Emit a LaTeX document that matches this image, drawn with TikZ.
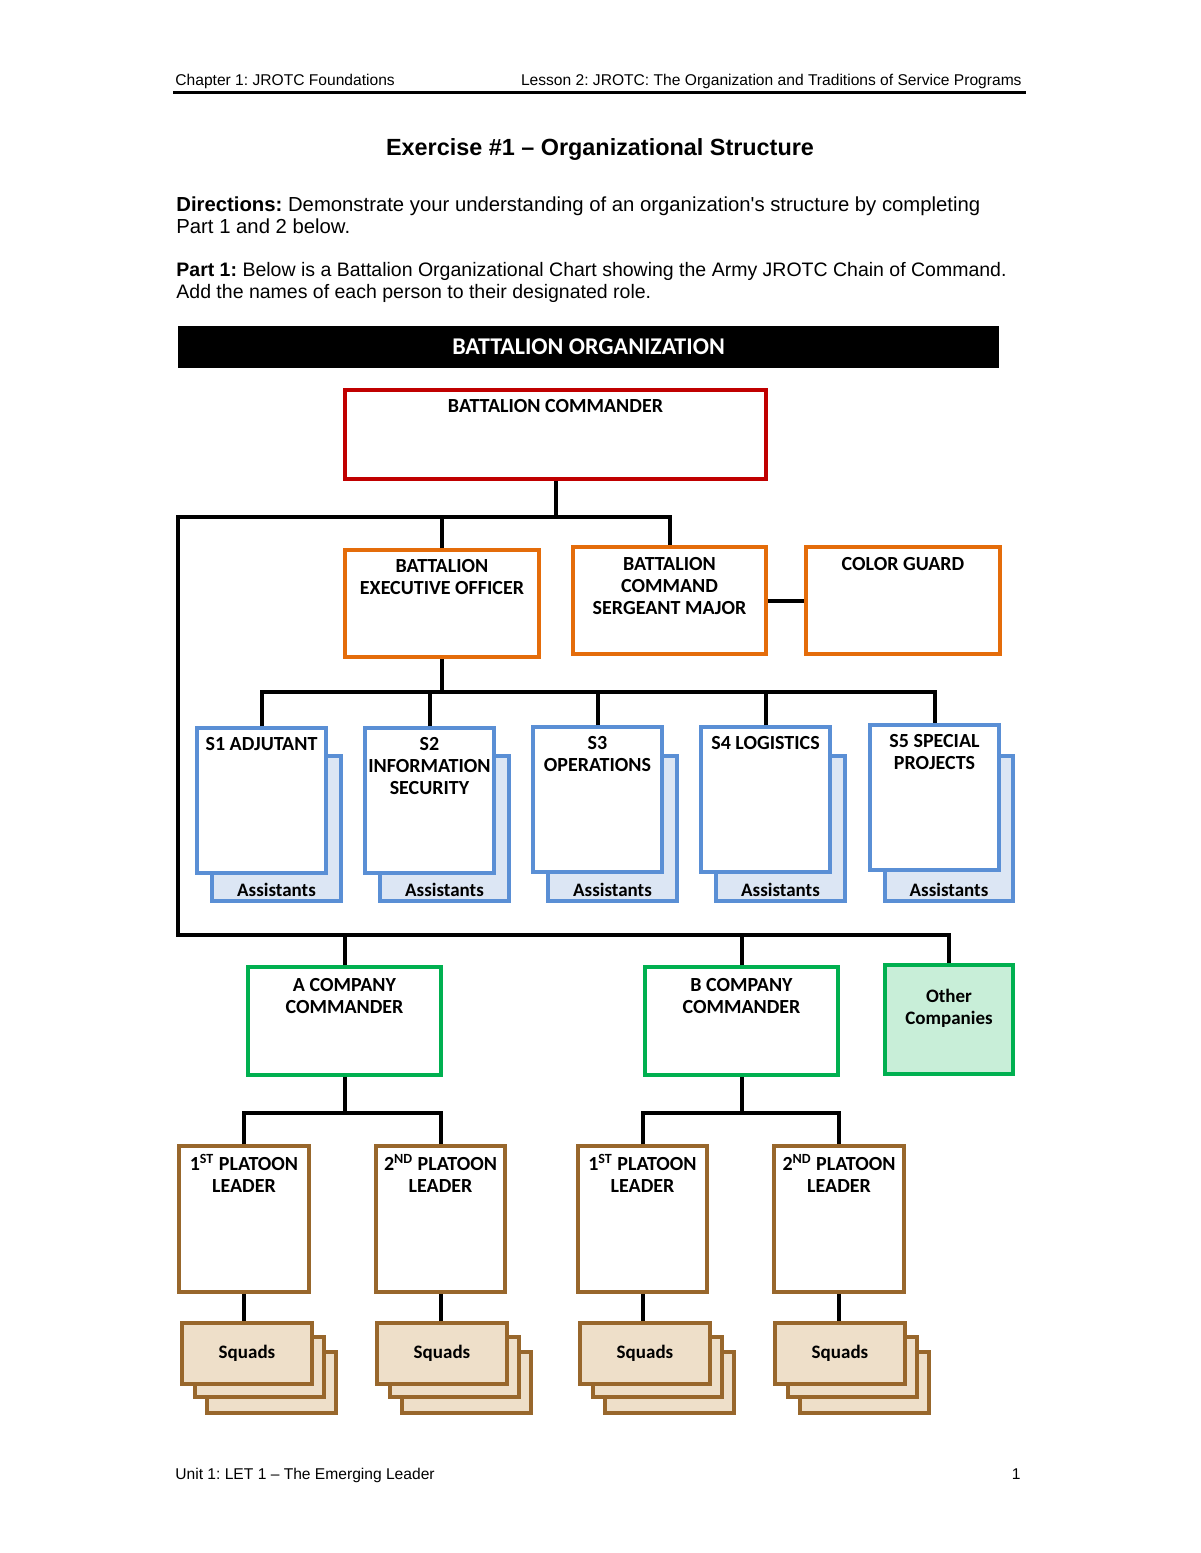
\documentclass[tikz,border=0pt]{standalone}
\usepackage{fontspec}
\setmainfont{Liberation Sans}
\newfontfamily\calfont{Carlito}
\frenchspacing
\usetikzlibrary{fit}
\definecolor{cred}{HTML}{C00000}
\definecolor{corange}{HTML}{E46C0A}
\definecolor{cblue}{HTML}{5A8FD5}
\definecolor{cbluefill}{HTML}{DCE6F4}
\definecolor{cgreen}{HTML}{00B050}
\definecolor{cgreenfill}{HTML}{C8EED8}
\definecolor{cbrown}{HTML}{98672C}
\definecolor{ctan}{HTML}{EEDFC9}
\newcommand{\ml}[1]{\begin{tabular}[t]{@{}c@{}}#1\end{tabular}}
\newcommand{\mll}[1]{\begin{tabular}[t]{@{}l@{}}#1\end{tabular}}
\tikzset{
  box/.style={draw, line width=1.75pt, inner sep=0pt, fill=white},
  redbox/.style={box, draw=cred},
  orbox/.style={box, draw=corange},
  bluebox/.style={box, draw=cblue, line width=1.6pt},
  blueback/.style={box, draw=cblue, fill=cbluefill, line width=1.6pt},
  grbox/.style={box, draw=cgreen},
  grfill/.style={box, draw=cgreen, fill=cgreenfill},
  brbox/.style={box, draw=cbrown},
  sqbox/.style={box, draw=cbrown, fill=ctan},
  conn/.style={draw=black, line width=2pt},
  lbl/.style={font=\calfont\bfseries\fontsize{10}{11}\selectfont, inner sep=0pt, anchor=base},
  lbls/.style={font=\calfont\bfseries\fontsize{9.5}{11}\selectfont, inner sep=0pt, anchor=base},
  hdr/.style={font=\fontsize{7.8}{9}\selectfont, inner sep=0pt},
  body/.style={inner sep=0pt, anchor=base west},
}
\begin{document}
\begin{tikzpicture}[x=0.5pt,y=-0.5pt]
\useasboundingbox[fill=white] (0,0) rectangle (1200,1553);

% header
\node[hdr, anchor=base west] (h1) at (175,85) {Chapter 1: JROTC Foundations};
\node[hdr, anchor=base east] (h2) at (1022,85) {Lesson 2: JROTC: The Organization and Traditions of Service Programs};
\coordinate (r1) at (173,92);
\coordinate (r2) at (1026,92);
\draw[line width=1.5pt] (r1) -- (r2);

% title and text
\node[font=\bfseries\fontsize{11.7}{14}\selectfont, inner sep=0pt, anchor=base] (title) at (600,155) {Exercise \#1 – Organizational Structure};
\node[body, font=\fontsize{10.15}{11}\selectfont] (dir) at (176,211) {\mll{\textbf{Directions:} Demonstrate your understanding of an organization\textquotesingle s structure by completing\\Part 1 and 2 below.}};
\node[body, font=\fontsize{9.75}{11}\selectfont] (part) at (176,276) {\mll{\textbf{Part 1:} Below is a Battalion Organizational Chart showing the Army JROTC Chain of Command.\\Add the names of each person to their designated role.}};

% bar
\node[fit={(178,326)(999,368)}, inner sep=0pt, fill=black] (bar) {};
\node[font=\calfont\bfseries\fontsize{12}{14}\selectfont, text=white, inner sep=0pt] (bartxt) at (bar.center) {BATTALION ORGANIZATION};

% top level
\node[redbox, fit={(345,390)(766,479)}] (cmd) {};
\node[orbox, fit={(345,550)(539,657)}] (xo) {};
\node[orbox, fit={(573,547)(766,654)}] (csm) {};
\node[orbox, fit={(806,547)(1000,654)}] (cg) {};

% staff back boxes
\node[blueback, fit={(212,756)(341,901)}] (s1b) {};
\node[blueback, fit={(380,756)(509,901)}] (s2b) {};
\node[blueback, fit={(548,756)(677,901)}] (s3b) {};
\node[blueback, fit={(716,756)(845,901)}] (s4b) {};
\node[blueback, fit={(885,756)(1013,901)}] (s5b) {};
% staff front boxes
\node[bluebox, fit={(197,728)(326,873)}] (s1) {};
\node[bluebox, fit={(365,728)(494,873)}] (s2) {};
\node[bluebox, fit={(533,727)(662,872)}] (s3) {};
\node[bluebox, fit={(701,727)(830,872)}] (s4) {};
\node[bluebox, fit={(870,725)(999,870)}] (s5) {};

% companies
\node[grbox, fit={(248,967)(441,1075)}] (ca) {};
\node[grbox, fit={(645,967)(838,1075)}] (cb) {};
\node[grfill, fit={(885,965)(1013,1074)}] (oc) {};

% platoons
\node[brbox, fit={(179,1146)(309,1292)}] (p1) {};
\node[brbox, fit={(376,1146)(505,1292)}] (p2) {};
\node[brbox, fit={(578,1146)(707,1292)}] (p3) {};
\node[brbox, fit={(774,1146)(904,1292)}] (p4) {};

% squads (back, middle, front)
\node[sqbox, fit={(207,1352)(336,1413)}] (q1c) {};
\node[sqbox, fit={(195,1337)(324,1397)}] (q1b) {};
\node[sqbox, fit={(182,1323)(312,1384)}] (q1) {};
\node[sqbox, fit={(402,1352)(531,1413)}] (q2c) {};
\node[sqbox, fit={(390,1337)(519,1397)}] (q2b) {};
\node[sqbox, fit={(377,1323)(507,1384)}] (q2) {};
\node[sqbox, fit={(605,1352)(734,1413)}] (q3c) {};
\node[sqbox, fit={(593,1337)(722,1397)}] (q3b) {};
\node[sqbox, fit={(580,1323)(710,1384)}] (q3) {};
\node[sqbox, fit={(800,1352)(929,1413)}] (q4c) {};
\node[sqbox, fit={(788,1337)(917,1397)}] (q4b) {};
\node[sqbox, fit={(775,1323)(905,1384)}] (q4) {};

% connectors
\draw[conn] (cmd.south) -- ++(0,36) coordinate (j1);
\coordinate (bl) at (178,935);
\coordinate (tl) at (j1 -| bl);
\draw[conn] (xo.north) |- (j1) -| (csm.north);
\draw[conn] (xo.north |- j1) -- (tl) -- (bl) -| (oc.north);
\draw[conn] (ca.north) -- (ca.north |- bl);
\draw[conn] (cb.north) -- (cb.north |- bl);
\draw[conn] (csm.east) -- (cg.west);
\draw[conn] (xo.south) -- ++(0,33) coordinate (j2);
\draw[conn] (s1.north) |- (j2) -| (s5.north);
\draw[conn] (s2.north) -- (s2.north |- j2);
\draw[conn] (s3.north) -- (s3.north |- j2);
\draw[conn] (s4.north) -- (s4.north |- j2);
\draw[conn] (ca.south) -- ++(0,36) coordinate (j3);
\draw[conn] (p1.north) |- (j3) -| (p2.north);
\draw[conn] (cb.south) -- ++(0,36) coordinate (j4);
\draw[conn] (p3.north) |- (j4) -| (p4.north);
\draw[conn] (p1.south) -- (p1.south |- q1.north);
\draw[conn] (p2.south) -- (p2.south |- q2.north);
\draw[conn] (p3.south) -- (p3.south |- q3.north);
\draw[conn] (p4.south) -- (p4.south |- q4.north);

% labels
\node[lbl] (tcmd) at ([yshift=-12pt]cmd.north) {BATTALION COMMANDER};
\node[lbl] (txo) at ([yshift=-12pt]xo.north) {\ml{BATTALION\\EXECUTIVE OFFICER}};
\node[lbl] (tcsm) at ([yshift=-12.5pt]csm.north) {\ml{BATTALION\\COMMAND\\SERGEANT MAJOR}};
\node[lbl] (tcg) at ([yshift=-12.5pt]cg.north) {COLOR GUARD};
\node[lbl] (ts1) at ([yshift=-12pt]s1.north) {S1 ADJUTANT};
\node[lbl] (ts2) at ([yshift=-12pt]s2.north) {\ml{S2\\INFORMATION\\SECURITY}};
\node[lbl] (ts3) at ([yshift=-12pt]s3.north) {\ml{S3\\OPERATIONS}};
\node[lbl] (ts4) at ([yshift=-12pt]s4.north) {S4 LOGISTICS};
\node[lbl] (ts5) at ([yshift=-12pt]s5.north) {\ml{S5 SPECIAL\\PROJECTS}};
\foreach \s in {s1b,s2b,s3b,s4b,s5b}{
  \node[lbls] at ([yshift=3pt]\s.south) {Assistants};
}
\node[lbl] (tca) at ([yshift=-13pt]ca.north) {\ml{A COMPANY\\COMMANDER}};
\node[lbl] (tcb) at ([yshift=-13pt]cb.north) {\ml{B COMPANY\\COMMANDER}};
\node[lbls] (toc) at ([yshift=-19.5pt]oc.north) {\ml{Other\\Companies}};
\node[lbl] (tp1) at ([yshift=-13pt]p1.north) {\ml{1\textsuperscript{ST} PLATOON\\LEADER}};
\node[lbl] (tp2) at ([yshift=-13pt]p2.north) {\ml{2\textsuperscript{ND} PLATOON\\LEADER}};
\node[lbl] (tp3) at ([yshift=-13pt]p3.north) {\ml{1\textsuperscript{ST} PLATOON\\LEADER}};
\node[lbl] (tp4) at ([yshift=-13pt]p4.north) {\ml{2\textsuperscript{ND} PLATOON\\LEADER}};
\foreach \q in {q1,q2,q3,q4}{
  \node[lbls, anchor=center] at (\q.center) {Squads};
}

% footer
\node[hdr, anchor=base west] (f1) at (175,1479) {Unit 1: LET 1 – The Emerging Leader};
\node[hdr, anchor=base east] (f2) at (1021,1479) {1};
\end{tikzpicture}
\end{document}
